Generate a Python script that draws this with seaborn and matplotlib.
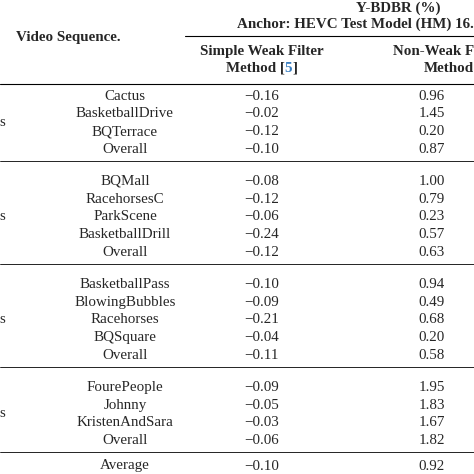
import matplotlib
matplotlib.use("Agg")
import matplotlib.pyplot as plt
import seaborn as sns

sns.set_theme(style="white")
plt.rcParams['font.family'] = ['Liberation Serif', 'DejaVu Serif']

groups = [
    ["Cactus", "BasketballDrive", "BQTerrace", "Overall"],
    ["BQMall", "RacehorsesC", "ParkScene", "BasketballDrill", "Overall"],
    ["BasketballPass", "BlowingBubbles", "Racehorses", "BQSquare", "Overall"],
    ["FourePeople", "Johnny", "KristenAndSara", "Overall"],
]
simple_weak = [
    [-0.16, -0.02, -0.12, -0.10],
    [-0.08, -0.12, -0.06, -0.24, -0.12],
    [-0.10, -0.09, -0.21, -0.04, -0.11],
    [-0.09, -0.05, -0.03, -0.06],
]
non_weak = [
    [0.96, 1.45, 0.20, 0.87],
    [1.00, 0.79, 0.23, 0.57, 0.63],
    [0.94, 0.49, 0.68, 0.20, 0.58],
    [1.95, 1.83, 1.67, 1.82],
]
avg_simple, avg_non = -0.10, 0.92

def fmt(v):
    return f"{v:.2f}".replace("-", "\u2212")

fig = plt.figure(figsize=(4.74, 4.74), dpi=100)
ax = fig.add_axes([0, 0, 1, 1])
ax.set_xlim(0, 474); ax.set_ylim(474, 0); ax.axis("off")
fs = 10.8
ax.text(398, 8, "Y-BDBR (%)", ha="center", va="center", fontsize=fs, weight="bold")
ax.text(474, 24, "Anchor: HEVC Test Model (HM) 16.", ha="right", va="center", fontsize=fs, weight="bold")
ax.plot([185, 474], [36, 36], color="black", lw=0.8)
ax.text(68, 37, "Video Sequence.", ha="center", va="center", fontsize=fs, weight="bold")
ax.text(262, 51, "Simple Weak Filter", ha="center", va="center", fontsize=fs, weight="bold")
ax.text(292, 68, "]", ha="left", va="center", fontsize=fs, weight="bold")
ax.text(292, 68, "5", ha="right", va="center", fontsize=fs, weight="bold", color="#3a7fc1")
ax.text(285, 68, "Method [", ha="right", va="center", fontsize=fs, weight="bold")
ax.text(474, 51, "Non-Weak F", ha="right", va="center", fontsize=fs, weight="bold")
ax.text(474, 68, "Method", ha="right", va="center", fontsize=fs, weight="bold")
ax.plot([0, 474], [84, 84], color="black", lw=0.8)

y = 96
step = 17.8
for names, s, n in zip(groups, simple_weak, non_weak):
    ys = []
    for name, a, b in zip(names, s, n):
        ax.text(125, y, name, ha="center", va="center", fontsize=fs)
        ax.text(262, y, fmt(a), ha="center", va="center", fontsize=fs)
        ax.text(432, y, fmt(b), ha="center", va="center", fontsize=fs)
        ys.append(y); y += step
    ax.text(-1, (ys[0] + ys[-1]) / 2 if len(ys) == 4 else ys[2], "s", ha="left", va="center", fontsize=fs)
    ax.plot([0, 474], [y - 6, y - 6], color="black", lw=0.6)
    y += 14
y = 466
ax.text(125, y, "Average", ha="center", va="center", fontsize=fs)
ax.text(262, y, fmt(avg_simple), ha="center", va="center", fontsize=fs)
ax.text(432, y, fmt(avg_non), ha="center", va="center", fontsize=fs)
fig.savefig("out.png", dpi=100, facecolor="white")
